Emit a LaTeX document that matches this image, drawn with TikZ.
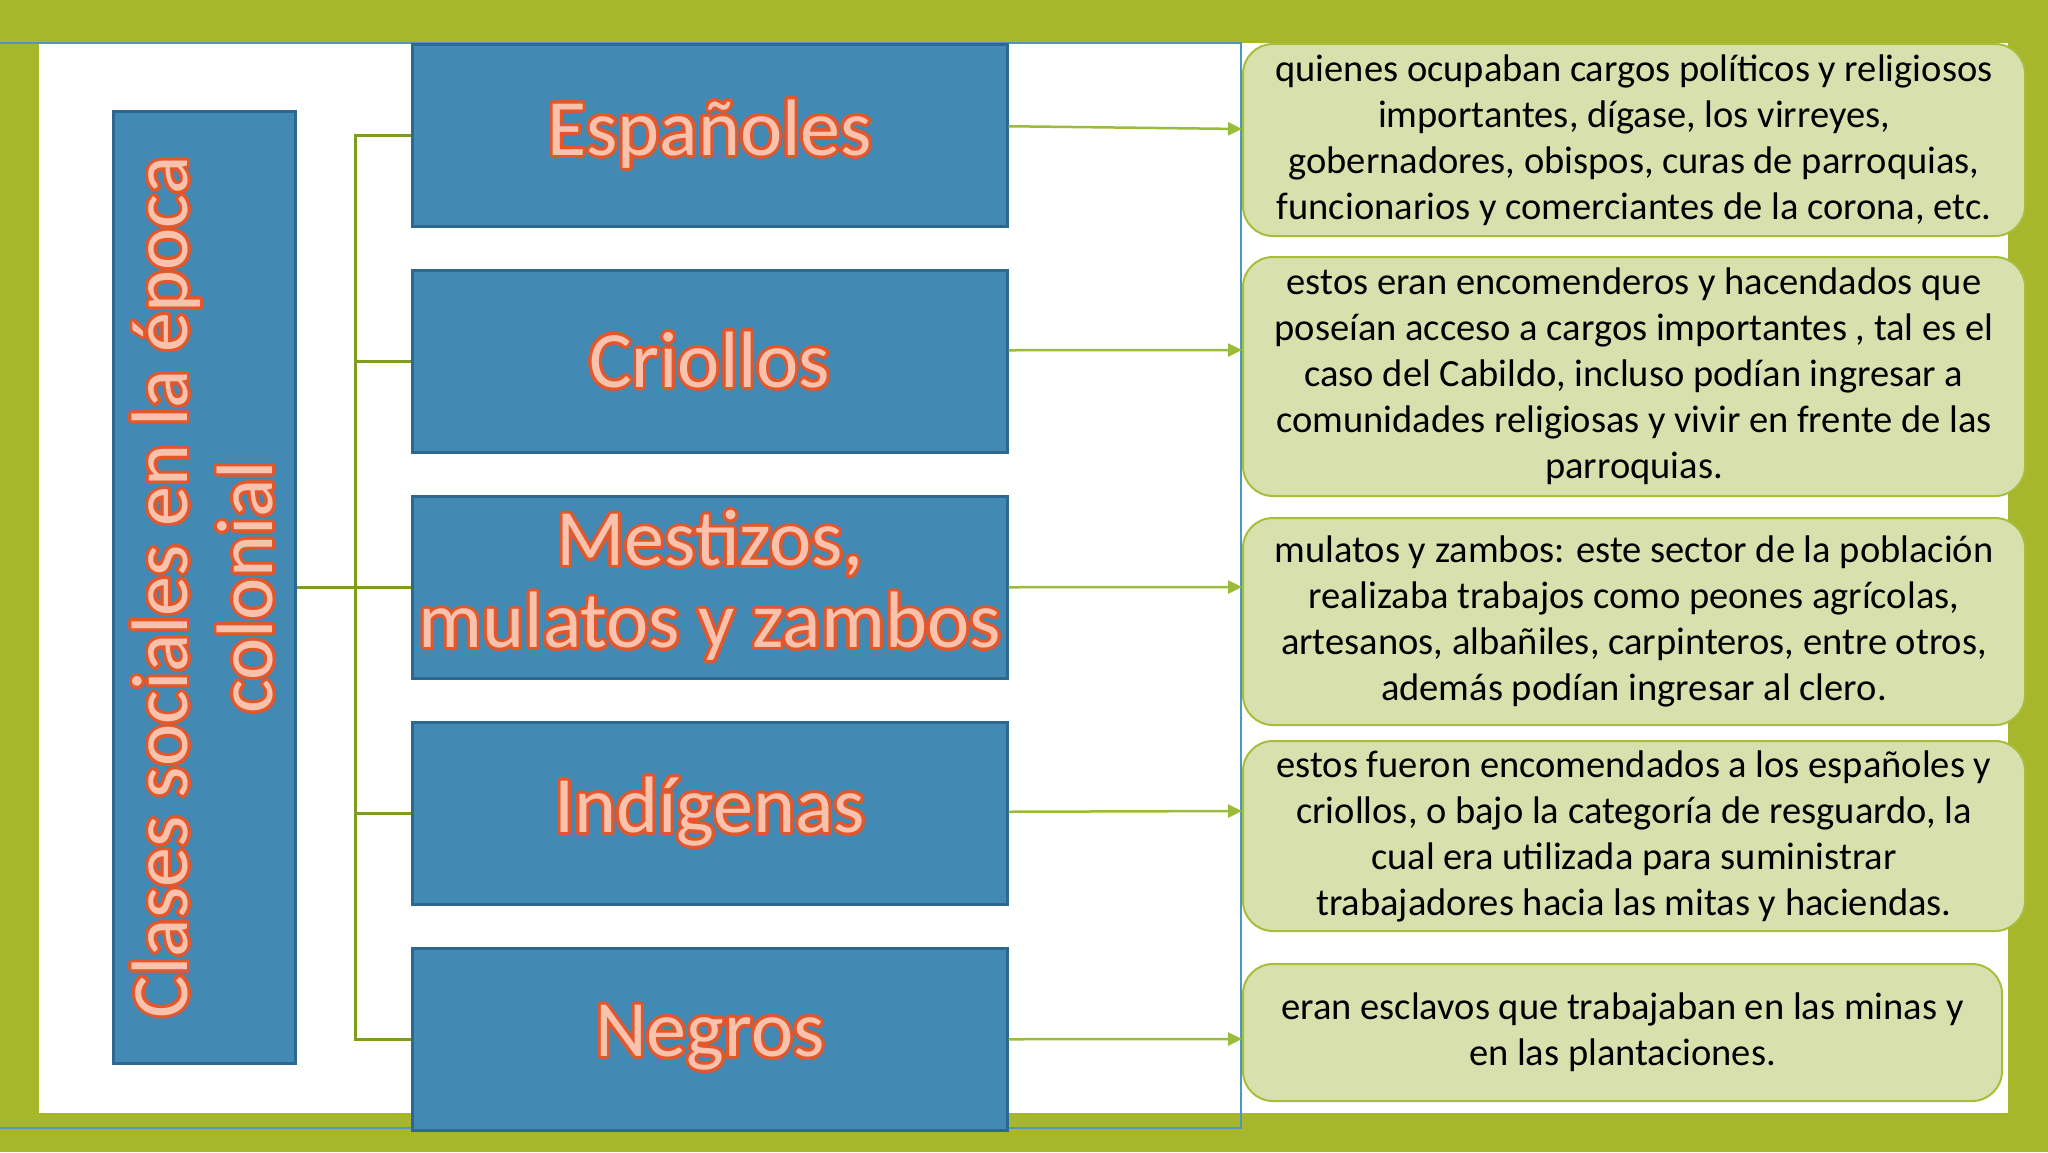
\documentclass[tikz,border=0pt]{standalone}
\usepackage{fontspec}
\setmainfont{Carlito}
\usepackage{contour}
\contourlength{3pt}
\contournumber{32}
\usetikzlibrary{arrows.meta}
\definecolor{bgolive}{HTML}{A7B62B}
\definecolor{boxfill}{HTML}{4289B3}
\definecolor{boxline}{HTML}{2D6890}
\definecolor{descfill}{HTML}{D8E1AE}
\definecolor{descline}{HTML}{A6BF3B}
\definecolor{arrowc}{HTML}{9BBB3A}
\definecolor{treec}{HTML}{7E9C1D}
\definecolor{framec}{HTML}{4F95C4}
\definecolor{txtfill}{HTML}{F8C2AD}
\definecolor{txtline}{HTML}{E2572B}
\newcommand{\otxt}[1]{\contour{txtline}{#1}}
\begin{document}
\begin{tikzpicture}[x=1pt,y=-1pt,
  midbox/.style={draw=boxline, line width=2.5pt, fill=boxfill, minimum width=595pt,
    minimum height=182pt, inner sep=0pt, text=txtfill,
    font=\fontsize{80}{82}\selectfont, align=center, anchor=north west},
  titlebox/.style={draw=boxline, line width=2.5pt, fill=boxfill, minimum width=182pt,
    minimum height=952pt, inner sep=0pt, anchor=north west},
  titletext/.style={rotate=90, text=txtfill, font=\fontsize{80}{85}\selectfont,
    align=center, inner sep=0pt},
  descbox/.style={draw=descline, line width=2pt, fill=descfill, rounded corners=30pt,
    inner sep=0pt, align=center, font=\fontsize{38.5}{46}\selectfont, text=black,
    anchor=north west, minimum width=782pt},
  tree/.style={draw=treec, line width=3.5pt},
  arr/.style={draw=arrowc, line width=2.5pt, -{Triangle[length=14pt,width=13pt]}}]
\useasboundingbox (0,0) rectangle (2048,1152);
\fill[bgolive] (0,0) rectangle (2048,1152);
\fill[white] (39,43) rectangle (2008,1113);
\draw[framec, line width=1.5pt] (-5,43) rectangle (1241,1128);

% title
\node[titlebox] (title) at (112,110) {};
\node[titletext] (titletxt) at (title.center) {\otxt{Clases sociales en la época}\\\otxt{colonial}};

% middle boxes
\node[midbox] (esp) at (411,43) {\otxt{Españoles}};
\node[midbox] (cri) at (411,269) {\otxt{Criollos}};
\node[midbox] (mes) at (411,495) {\otxt{Mestizos,}\\\otxt{mulatos y zambos}};
\node[midbox] (ind) at (411,721) {\otxt{Indígenas}};
\node[midbox] (neg) at (411,947) {\otxt{Negros}};

% tree connectors
\path (title.east) -- ++(59,0) coordinate (tk);
\draw[tree] (title.east) -- (tk);
\draw[tree] (esp.west) -| (tk |- neg.west) -- (neg.west);
\draw[tree] (cri.west) -- (cri.west -| tk);
\draw[tree] (mes.west) -- (mes.west -| tk);
\draw[tree] (ind.west) -- (ind.west -| tk);

% description boxes
\node[descbox, minimum height=192pt] (d1) at (1242,43)
  {quienes ocupaban cargos políticos y religiosos\\importantes, dígase, los virreyes,\\gobernadores, obispos, curas de parroquias,\\funcionarios y comerciantes de la corona, etc.};
\node[descbox, minimum height=239pt] (d2) at (1242,256)
  {estos eran encomenderos y hacendados que\\poseían acceso a cargos importantes , tal es el\\caso del Cabildo, incluso podían ingresar a\\comunidades religiosas y vivir en frente de las\\parroquias.};
\node[descbox, minimum height=207pt] (d3) at (1242,517)
  {mulatos y zambos: este sector de la población\\realizaba trabajos como peones agrícolas,\\artesanos, albañiles, carpinteros, entre otros,\\además podían ingresar al clero.};
\node[descbox, minimum height=190pt] (d4) at (1242,740)
  {estos fueron encomendados a los españoles y\\criollos, o bajo la categoría de resguardo, la\\cual era utilizada para suministrar\\trabajadores hacia las mitas y haciendas.};
\node[descbox, minimum height=137pt, minimum width=759pt] (d5) at (1242,963)
  {eran esclavos que trabajaban en las minas y\\en las plantaciones.};

% arrows
\draw[arr] ([yshift=9pt]esp.east) -- ([yshift=11pt]d1.west);
\draw[arr] ([yshift=11pt]cri.east) -- ([yshift=26.5pt]d2.west);
\draw[arr] (mes.east) -- ([yshift=34.5pt]d3.west);
\draw[arr] ([yshift=1.5pt]ind.east) -- ([yshift=25pt]d4.west);
\draw[arr] (neg.east) -- ([yshift=-6.5pt]d5.west);
\end{tikzpicture}
\end{document}
